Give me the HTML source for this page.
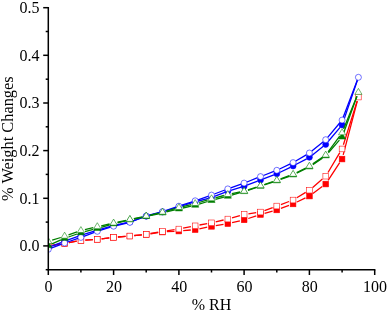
<!DOCTYPE html>
<html><head><meta charset="utf-8"><title>% Weight Changes vs % RH</title>
<style>html,body{margin:0;padding:0;background:#fff}svg{display:block}</style></head>
<body><svg width="388" height="312" viewBox="0 0 388 312">
<rect width="388" height="312" fill="#fff"/>
<clipPath id="c"><rect x="48" y="0" width="340" height="270"/></clipPath><g clip-path="url(#c)">
<path d="M52.6,245.3L60.3,244.0M68.9,242.6L76.7,241.2M85.3,240.2L92.9,239.6M101.6,238.8L109.3,237.8M117.9,237.0L125.6,236.3M134.2,235.6L141.9,234.8M150.5,233.8L158.2,232.6M166.9,231.7L174.5,231.3M183.2,230.7L190.8,230.0M199.4,228.8L207.2,227.2M215.8,225.6L223.5,224.3M232.1,222.6L239.9,220.8M248.3,218.5L256.3,215.8M264.6,213.3L272.6,211.1M280.9,208.4L289.0,205.4M297.0,202.0L305.5,197.9M312.9,193.4L322.2,186.6M328.1,180.4L339.7,162.6M343.2,154.8L357.3,101.2" fill="none" stroke="#ff0000" stroke-width="1.3"/>
<rect x="45.4" y="243.2" width="5.7" height="5.7" fill="#ff0000" stroke="#ff0000" stroke-width="0.55"/><rect x="61.8" y="240.5" width="5.7" height="5.7" fill="#ff0000" stroke="#ff0000" stroke-width="0.55"/><rect x="78.1" y="237.7" width="5.7" height="5.7" fill="#ff0000" stroke="#ff0000" stroke-width="0.55"/><rect x="94.4" y="236.5" width="5.7" height="5.7" fill="#ff0000" stroke="#ff0000" stroke-width="0.55"/><rect x="110.7" y="234.5" width="5.7" height="5.7" fill="#ff0000" stroke="#ff0000" stroke-width="0.55"/><rect x="127.0" y="233.2" width="5.7" height="5.7" fill="#ff0000" stroke="#ff0000" stroke-width="0.55"/><rect x="143.4" y="231.6" width="5.7" height="5.7" fill="#ff0000" stroke="#ff0000" stroke-width="0.55"/><rect x="159.7" y="229.2" width="5.7" height="5.7" fill="#ff0000" stroke="#ff0000" stroke-width="0.55"/><rect x="176.0" y="228.2" width="5.7" height="5.7" fill="#ff0000" stroke="#ff0000" stroke-width="0.55"/><rect x="192.3" y="226.8" width="5.7" height="5.7" fill="#ff0000" stroke="#ff0000" stroke-width="0.55"/><rect x="208.7" y="223.5" width="5.7" height="5.7" fill="#ff0000" stroke="#ff0000" stroke-width="0.55"/><rect x="225.0" y="220.8" width="5.7" height="5.7" fill="#ff0000" stroke="#ff0000" stroke-width="0.55"/><rect x="241.3" y="217.0" width="5.7" height="5.7" fill="#ff0000" stroke="#ff0000" stroke-width="0.55"/><rect x="257.6" y="211.7" width="5.7" height="5.7" fill="#ff0000" stroke="#ff0000" stroke-width="0.55"/><rect x="273.9" y="207.1" width="5.7" height="5.7" fill="#ff0000" stroke="#ff0000" stroke-width="0.55"/><rect x="290.2" y="201.1" width="5.7" height="5.7" fill="#ff0000" stroke="#ff0000" stroke-width="0.55"/><rect x="306.6" y="193.2" width="5.7" height="5.7" fill="#ff0000" stroke="#ff0000" stroke-width="0.55"/><rect x="322.9" y="181.2" width="5.7" height="5.7" fill="#ff0000" stroke="#ff0000" stroke-width="0.55"/><rect x="339.2" y="156.2" width="5.7" height="5.7" fill="#ff0000" stroke="#ff0000" stroke-width="0.55"/>
<path d="M52.6,245.3L60.3,244.0M68.9,242.6L76.7,241.2M85.3,240.2L92.9,239.6M101.6,238.8L109.3,237.8M117.9,237.0L125.6,236.3M134.2,235.5L141.9,234.8M150.5,233.5L158.3,232.2M166.8,230.8L174.6,229.7M183.1,228.2L190.9,226.7M199.5,225.0L207.2,223.6M215.7,221.9L223.6,220.0M232.0,217.8L239.9,215.7M248.4,213.9L256.2,212.7M264.5,210.6L272.7,207.6M280.9,204.6L289.0,201.5M296.8,197.8L305.7,192.4M312.7,187.4L322.4,179.0M328.0,172.5L339.8,152.6M343.4,144.8L357.1,101.1" fill="none" stroke="#ff0000" stroke-width="1.3"/>
<rect x="45.4" y="243.2" width="5.7" height="5.7" fill="#fff" stroke="#ff0000" stroke-width="0.55"/><rect x="61.8" y="240.5" width="5.7" height="5.7" fill="#fff" stroke="#ff0000" stroke-width="0.55"/><rect x="78.1" y="237.7" width="5.7" height="5.7" fill="#fff" stroke="#ff0000" stroke-width="0.55"/><rect x="94.4" y="236.5" width="5.7" height="5.7" fill="#fff" stroke="#ff0000" stroke-width="0.55"/><rect x="110.7" y="234.5" width="5.7" height="5.7" fill="#fff" stroke="#ff0000" stroke-width="0.55"/><rect x="127.0" y="233.2" width="5.7" height="5.7" fill="#fff" stroke="#ff0000" stroke-width="0.55"/><rect x="143.4" y="231.5" width="5.7" height="5.7" fill="#fff" stroke="#ff0000" stroke-width="0.55"/><rect x="159.7" y="228.6" width="5.7" height="5.7" fill="#fff" stroke="#ff0000" stroke-width="0.55"/><rect x="176.0" y="226.2" width="5.7" height="5.7" fill="#fff" stroke="#ff0000" stroke-width="0.55"/><rect x="192.3" y="223.0" width="5.7" height="5.7" fill="#fff" stroke="#ff0000" stroke-width="0.55"/><rect x="208.7" y="220.0" width="5.7" height="5.7" fill="#fff" stroke="#ff0000" stroke-width="0.55"/><rect x="225.0" y="216.2" width="5.7" height="5.7" fill="#fff" stroke="#ff0000" stroke-width="0.55"/><rect x="241.3" y="211.7" width="5.7" height="5.7" fill="#fff" stroke="#ff0000" stroke-width="0.55"/><rect x="257.6" y="209.2" width="5.7" height="5.7" fill="#fff" stroke="#ff0000" stroke-width="0.55"/><rect x="273.9" y="203.2" width="5.7" height="5.7" fill="#fff" stroke="#ff0000" stroke-width="0.55"/><rect x="290.2" y="197.2" width="5.7" height="5.7" fill="#fff" stroke="#ff0000" stroke-width="0.55"/><rect x="306.6" y="187.3" width="5.7" height="5.7" fill="#fff" stroke="#ff0000" stroke-width="0.55"/><rect x="322.9" y="173.3" width="5.7" height="5.7" fill="#fff" stroke="#ff0000" stroke-width="0.55"/><rect x="339.2" y="146.1" width="5.7" height="5.7" fill="#fff" stroke="#ff0000" stroke-width="0.55"/><rect x="355.5" y="94.2" width="5.7" height="5.7" fill="#fff" stroke="#ff0000" stroke-width="0.55"/>
<path d="M51.2,246.3L61.7,242.3M67.5,240.2L78.0,236.4M83.9,234.4L94.3,231.1M100.2,229.3L110.6,226.3M116.6,224.8L126.9,222.7M132.8,221.0L143.3,217.2M149.2,215.4L159.5,212.8M165.5,211.1L175.9,207.8M181.8,206.0L192.2,202.7M198.2,201.0L208.5,198.3M214.4,196.4L224.9,192.4M230.8,190.4L241.2,187.1M247.0,185.1L257.6,181.1M263.4,178.9L273.9,174.9M279.6,172.5L290.3,167.3M295.8,164.5L306.7,158.8M311.9,155.4L323.3,146.3M327.7,142.0L340.1,127.4M343.1,122.1L357.4,80.2" fill="none" stroke="#0000ff" stroke-width="1.3"/>
<circle cx="48.3" cy="247.4" r="3.0" fill="#0000ff" stroke="#0000ff" stroke-width="0.55"/><circle cx="64.6" cy="241.2" r="3.0" fill="#0000ff" stroke="#0000ff" stroke-width="0.55"/><circle cx="80.9" cy="235.4" r="3.0" fill="#0000ff" stroke="#0000ff" stroke-width="0.55"/><circle cx="97.3" cy="230.1" r="3.0" fill="#0000ff" stroke="#0000ff" stroke-width="0.55"/><circle cx="113.6" cy="225.5" r="3.0" fill="#0000ff" stroke="#0000ff" stroke-width="0.55"/><circle cx="129.9" cy="222.0" r="3.0" fill="#0000ff" stroke="#0000ff" stroke-width="0.55"/><circle cx="146.2" cy="216.2" r="3.0" fill="#0000ff" stroke="#0000ff" stroke-width="0.55"/><circle cx="162.5" cy="212.0" r="3.0" fill="#0000ff" stroke="#0000ff" stroke-width="0.55"/><circle cx="178.9" cy="206.9" r="3.0" fill="#0000ff" stroke="#0000ff" stroke-width="0.55"/><circle cx="195.2" cy="201.8" r="3.0" fill="#0000ff" stroke="#0000ff" stroke-width="0.55"/><circle cx="211.5" cy="197.5" r="3.0" fill="#0000ff" stroke="#0000ff" stroke-width="0.55"/><circle cx="227.8" cy="191.3" r="3.0" fill="#0000ff" stroke="#0000ff" stroke-width="0.55"/><circle cx="244.1" cy="186.2" r="3.0" fill="#0000ff" stroke="#0000ff" stroke-width="0.55"/><circle cx="260.5" cy="180.0" r="3.0" fill="#0000ff" stroke="#0000ff" stroke-width="0.55"/><circle cx="276.8" cy="173.8" r="3.0" fill="#0000ff" stroke="#0000ff" stroke-width="0.55"/><circle cx="293.1" cy="166.0" r="3.0" fill="#0000ff" stroke="#0000ff" stroke-width="0.55"/><circle cx="309.4" cy="157.3" r="3.0" fill="#0000ff" stroke="#0000ff" stroke-width="0.55"/><circle cx="325.7" cy="144.4" r="3.0" fill="#0000ff" stroke="#0000ff" stroke-width="0.55"/><circle cx="342.1" cy="125.0" r="3.0" fill="#0000ff" stroke="#0000ff" stroke-width="0.55"/>
<path d="M51.2,248.2L61.7,244.1M67.6,242.0L78.0,238.4M83.8,236.3L94.4,232.4M100.2,230.4L110.6,227.1M116.6,225.5L126.9,223.0M132.8,221.2L143.3,217.1M149.2,215.2L159.5,212.4M165.5,210.6L175.9,207.2M181.8,205.2L192.2,201.8M198.1,199.8L208.6,196.1M214.4,194.0L224.9,190.0M230.7,187.9L241.2,184.1M247.0,182.0L257.6,177.7M263.4,175.5L273.9,171.4M279.6,169.0L290.3,163.9M295.8,161.0L306.7,154.6M311.8,151.0L323.3,141.7M327.7,137.3L340.1,122.5M343.2,117.2L357.3,80.2" fill="none" stroke="#0000ff" stroke-width="1.3"/>
<circle cx="48.3" cy="249.3" r="3.0" fill="#fff" stroke="#0000ff" stroke-width="0.55"/><circle cx="64.6" cy="243.0" r="3.0" fill="#fff" stroke="#0000ff" stroke-width="0.55"/><circle cx="80.9" cy="237.4" r="3.0" fill="#fff" stroke="#0000ff" stroke-width="0.55"/><circle cx="97.3" cy="231.3" r="3.0" fill="#fff" stroke="#0000ff" stroke-width="0.55"/><circle cx="113.6" cy="226.2" r="3.0" fill="#fff" stroke="#0000ff" stroke-width="0.55"/><circle cx="129.9" cy="222.3" r="3.0" fill="#fff" stroke="#0000ff" stroke-width="0.55"/><circle cx="146.2" cy="216.0" r="3.0" fill="#fff" stroke="#0000ff" stroke-width="0.55"/><circle cx="162.5" cy="211.6" r="3.0" fill="#fff" stroke="#0000ff" stroke-width="0.55"/><circle cx="178.9" cy="206.2" r="3.0" fill="#fff" stroke="#0000ff" stroke-width="0.55"/><circle cx="195.2" cy="200.8" r="3.0" fill="#fff" stroke="#0000ff" stroke-width="0.55"/><circle cx="211.5" cy="195.1" r="3.0" fill="#fff" stroke="#0000ff" stroke-width="0.55"/><circle cx="227.8" cy="188.9" r="3.0" fill="#fff" stroke="#0000ff" stroke-width="0.55"/><circle cx="244.1" cy="183.1" r="3.0" fill="#fff" stroke="#0000ff" stroke-width="0.55"/><circle cx="260.5" cy="176.6" r="3.0" fill="#fff" stroke="#0000ff" stroke-width="0.55"/><circle cx="276.8" cy="170.3" r="3.0" fill="#fff" stroke="#0000ff" stroke-width="0.55"/><circle cx="293.1" cy="162.6" r="3.0" fill="#fff" stroke="#0000ff" stroke-width="0.55"/><circle cx="309.4" cy="153.0" r="3.0" fill="#fff" stroke="#0000ff" stroke-width="0.55"/><circle cx="325.7" cy="139.7" r="3.0" fill="#fff" stroke="#0000ff" stroke-width="0.55"/><circle cx="342.1" cy="120.1" r="3.0" fill="#fff" stroke="#0000ff" stroke-width="0.55"/><circle cx="358.4" cy="77.3" r="3.0" fill="#fff" stroke="#0000ff" stroke-width="0.55"/>
<path d="M52.0,243.9L60.9,239.9M68.5,237.0L77.1,234.0M84.9,231.7L93.3,229.4M101.2,227.3L109.7,224.9M117.5,222.8L126.0,220.8M133.9,219.0L142.3,217.3M150.2,215.6L158.6,213.8M166.5,211.9L174.9,209.9M182.8,208.0L191.2,206.1M199.1,204.1L207.6,201.5M215.4,199.4L223.9,197.2M231.7,195.1L240.2,192.7M248.0,190.3L256.6,187.5M264.3,184.9L272.9,182.1M280.6,179.4L289.3,176.3M296.7,173.1L305.8,168.7M312.8,164.6L322.4,158.1M328.4,152.7L339.4,140.1M343.5,133.2L357.0,96.2" fill="none" stroke="#007f00" stroke-width="1.3"/>
<polygon points="48.3,241.5 44.7,247.5 51.9,247.5" fill="#007f00" stroke="#007f00" stroke-width="0.55"/><polygon points="64.6,234.3 61.0,240.3 68.2,240.3" fill="#007f00" stroke="#007f00" stroke-width="0.55"/><polygon points="80.9,228.7 77.3,234.7 84.5,234.7" fill="#007f00" stroke="#007f00" stroke-width="0.55"/><polygon points="97.3,224.4 93.7,230.4 100.9,230.4" fill="#007f00" stroke="#007f00" stroke-width="0.55"/><polygon points="113.6,219.8 110.0,225.8 117.2,225.8" fill="#007f00" stroke="#007f00" stroke-width="0.55"/><polygon points="129.9,215.8 126.3,221.8 133.5,221.8" fill="#007f00" stroke="#007f00" stroke-width="0.55"/><polygon points="146.2,212.5 142.6,218.5 149.8,218.5" fill="#007f00" stroke="#007f00" stroke-width="0.55"/><polygon points="162.5,208.9 158.9,214.9 166.1,214.9" fill="#007f00" stroke="#007f00" stroke-width="0.55"/><polygon points="178.9,204.9 175.3,210.9 182.5,210.9" fill="#007f00" stroke="#007f00" stroke-width="0.55"/><polygon points="195.2,201.2 191.6,207.2 198.8,207.2" fill="#007f00" stroke="#007f00" stroke-width="0.55"/><polygon points="211.5,196.4 207.9,202.4 215.1,202.4" fill="#007f00" stroke="#007f00" stroke-width="0.55"/><polygon points="227.8,192.2 224.2,198.2 231.4,198.2" fill="#007f00" stroke="#007f00" stroke-width="0.55"/><polygon points="244.1,187.6 240.5,193.6 247.7,193.6" fill="#007f00" stroke="#007f00" stroke-width="0.55"/><polygon points="260.5,182.2 256.9,188.2 264.1,188.2" fill="#007f00" stroke="#007f00" stroke-width="0.55"/><polygon points="276.8,176.8 273.2,182.8 280.4,182.8" fill="#007f00" stroke="#007f00" stroke-width="0.55"/><polygon points="293.1,170.9 289.5,176.9 296.7,176.9" fill="#007f00" stroke="#007f00" stroke-width="0.55"/><polygon points="309.4,162.9 305.8,168.9 313.0,168.9" fill="#007f00" stroke="#007f00" stroke-width="0.55"/><polygon points="325.7,151.8 322.1,157.8 329.3,157.8" fill="#007f00" stroke="#007f00" stroke-width="0.55"/><polygon points="342.1,133.0 338.5,139.0 345.7,139.0" fill="#007f00" stroke="#007f00" stroke-width="0.55"/>
<path d="M52.2,240.2L60.8,237.5M68.5,234.9L77.1,231.9M84.9,229.7L93.3,227.6M101.2,225.8L109.6,224.0M117.5,222.2L126.0,220.3M133.9,218.6L142.3,216.8M150.2,215.1L158.6,213.1M166.4,211.1L175.0,208.7M182.8,206.6L191.2,204.6M199.1,202.5L207.6,199.9M215.4,197.8L223.9,195.5M231.8,193.7L240.2,192.0M248.0,189.9L256.6,187.1M264.3,184.5L272.9,181.6M280.6,178.9L289.3,175.7M296.7,172.5L305.8,168.0M312.8,163.9L322.4,157.4M328.1,151.8L339.7,136.1M343.6,129.0L356.9,96.2" fill="none" stroke="#007f00" stroke-width="1.3"/>
<polygon points="48.3,237.5 44.7,243.5 51.9,243.5" fill="#fff" stroke="#007f00" stroke-width="0.55"/><polygon points="64.6,232.2 61.0,238.2 68.2,238.2" fill="#fff" stroke="#007f00" stroke-width="0.55"/><polygon points="80.9,226.6 77.3,232.6 84.5,232.6" fill="#fff" stroke="#007f00" stroke-width="0.55"/><polygon points="97.3,222.7 93.7,228.7 100.9,228.7" fill="#fff" stroke="#007f00" stroke-width="0.55"/><polygon points="113.6,219.1 110.0,225.1 117.2,225.1" fill="#fff" stroke="#007f00" stroke-width="0.55"/><polygon points="129.9,215.4 126.3,221.4 133.5,221.4" fill="#fff" stroke="#007f00" stroke-width="0.55"/><polygon points="146.2,212.0 142.6,218.0 149.8,218.0" fill="#fff" stroke="#007f00" stroke-width="0.55"/><polygon points="162.5,208.2 158.9,214.2 166.1,214.2" fill="#fff" stroke="#007f00" stroke-width="0.55"/><polygon points="178.9,203.6 175.3,209.6 182.5,209.6" fill="#fff" stroke="#007f00" stroke-width="0.55"/><polygon points="195.2,199.6 191.6,205.6 198.8,205.6" fill="#fff" stroke="#007f00" stroke-width="0.55"/><polygon points="211.5,194.8 207.9,200.8 215.1,200.8" fill="#fff" stroke="#007f00" stroke-width="0.55"/><polygon points="227.8,190.5 224.2,196.5 231.4,196.5" fill="#fff" stroke="#007f00" stroke-width="0.55"/><polygon points="244.1,187.2 240.5,193.2 247.7,193.2" fill="#fff" stroke="#007f00" stroke-width="0.55"/><polygon points="260.5,181.8 256.9,187.8 264.1,187.8" fill="#fff" stroke="#007f00" stroke-width="0.55"/><polygon points="276.8,176.3 273.2,182.3 280.4,182.3" fill="#fff" stroke="#007f00" stroke-width="0.55"/><polygon points="293.1,170.3 289.5,176.3 296.7,176.3" fill="#fff" stroke="#007f00" stroke-width="0.55"/><polygon points="309.4,162.2 305.8,168.2 313.0,168.2" fill="#fff" stroke="#007f00" stroke-width="0.55"/><polygon points="325.7,151.1 322.1,157.1 329.3,157.1" fill="#fff" stroke="#007f00" stroke-width="0.55"/><polygon points="342.1,128.8 338.5,134.8 345.7,134.8" fill="#fff" stroke="#007f00" stroke-width="0.55"/><polygon points="358.4,88.4 354.8,94.4 362.0,94.4" fill="#fff" stroke="#007f00" stroke-width="0.55"/>
</g>
<g stroke="#000" stroke-width="1.5" fill="none">
<path d="M48.3,7.0V269.8H375.4"/>
<path d="M43.2,245.9H48.3"/>
<path d="M43.2,198.3H48.3"/>
<path d="M43.2,150.6H48.3"/>
<path d="M43.2,103.0H48.3"/>
<path d="M43.2,55.3H48.3"/>
<path d="M43.2,7.7H48.3"/>
<path d="M45.7,269.7H48.3"/>
<path d="M45.7,222.1H48.3"/>
<path d="M45.7,174.4H48.3"/>
<path d="M45.7,126.8H48.3"/>
<path d="M45.7,79.2H48.3"/>
<path d="M45.7,31.5H48.3"/>
<path d="M48.3,269.8V275"/>
<path d="M113.6,269.8V275"/>
<path d="M178.9,269.8V275"/>
<path d="M244.1,269.8V275"/>
<path d="M309.4,269.8V275"/>
<path d="M374.7,269.8V275"/>
<path d="M80.9,269.8V272.5"/>
<path d="M146.2,269.8V272.5"/>
<path d="M211.5,269.8V272.5"/>
<path d="M276.8,269.8V272.5"/>
<path d="M342.1,269.8V272.5"/>
</g>
<g font-family="'Liberation Serif', serif" font-size="16" fill="#000">
<text x="39.5" y="251.2" text-anchor="end">0.0</text>
<text x="39.5" y="203.6" text-anchor="end">0.1</text>
<text x="39.5" y="155.9" text-anchor="end">0.2</text>
<text x="39.5" y="108.3" text-anchor="end">0.3</text>
<text x="39.5" y="60.6" text-anchor="end">0.4</text>
<text x="39.5" y="13.0" text-anchor="end">0.5</text>
<text x="48.6" y="291.7" text-anchor="middle">0</text>
<text x="113.9" y="291.7" text-anchor="middle">20</text>
<text x="179.2" y="291.7" text-anchor="middle">40</text>
<text x="244.4" y="291.7" text-anchor="middle">60</text>
<text x="309.7" y="291.7" text-anchor="middle">80</text>
<text x="375.0" y="291.7" text-anchor="middle">100</text>
<text x="211.5" y="309.8" text-anchor="middle">% RH</text>
<text transform="translate(13,138.7) rotate(-90)" text-anchor="middle" font-size="16.35">% Weight Changes</text>
</g>
</svg></body></html>
